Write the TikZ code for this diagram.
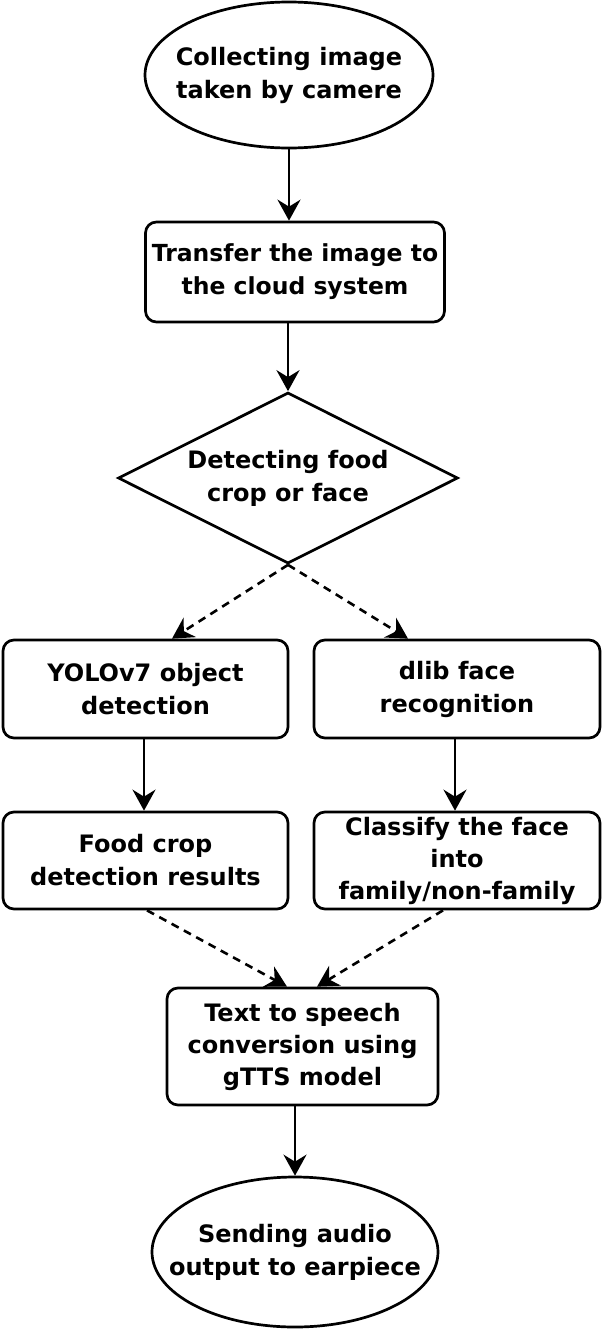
\documentclass[tikz,border=0pt]{standalone}
\usepackage{fontspec}
\setmainfont{DejaVu Sans}
\usetikzlibrary{shapes.geometric,arrows.meta}
\begin{document}
\begin{tikzpicture}[x=1pt,y=-1pt,
  every node/.style={font=\fontsize{24}{33}\selectfont\bfseries, align=center, inner sep=0pt},
  oval/.style={draw, line width=2.7pt, ellipse, minimum width=288pt, minimum height=146pt},
  stepbox/.style={draw, line width=2.7pt, rounded corners=11pt, rectangle},
  decide/.style={draw, line width=2.7pt, diamond, aspect=1.99, minimum width=340pt, minimum height=171pt},
  solidarrow/.style={line width=2.6pt, -{Stealth[length=21pt,width=23pt,inset=7pt]}},
  dasharrow/.style={line width=2.6pt, dash pattern=on 8pt off 6pt, -{Stealth[length=21pt,width=23pt,inset=7pt]}}
]
\useasboundingbox (0,0) rectangle (605,1331);
\node[oval, label={center:Collecting image\\taken by camere}] (e1) at (289,75) {};
\node[stepbox, minimum width=299pt, minimum height=100pt, font=\fontsize{23.5}{33}\selectfont\bfseries] (b1) at (295,272) {Transfer the image to\\the cloud system};
\node[decide] (d) at (288,478) {Detecting food\\crop or face};
\node[stepbox, minimum width=285pt, minimum height=98pt] (b2L) at (145.5,689) {YOLOv7 object\\detection};
\node[stepbox, minimum width=286pt, minimum height=98pt] (b2R) at (457,689) {dlib face\\recognition};
\node[stepbox, minimum width=285pt, minimum height=97pt] (b3L) at (145.5,860.5) {Food crop\\detection results};
\node[stepbox, minimum width=286pt, minimum height=97pt, font=\fontsize{24}{32}\selectfont\bfseries] (b3R) at (457,860.5) {Classify the face\\into\\family/non-family};
\node[stepbox, minimum width=271pt, minimum height=117pt, font=\fontsize{24}{32}\selectfont\bfseries] (b4) at (302.5,1046.5) {Text to speech\\conversion using\\gTTS model};
\node[oval, minimum width=286pt, minimum height=150pt, label={center:Sending audio\\output to earpiece}] (e2) at (295,1252) {};

\draw[solidarrow] (e1.south) -- (e1.south |- b1.north);
\draw[solidarrow] (d.north |- b1.south) -- (d.north);
\draw[dasharrow] (d.south) -- ([xshift=26.5pt]b2L.north);
\draw[dasharrow] (d.south) -- ([xshift=-49pt]b2R.north);
\draw[solidarrow] ([xshift=-1.5pt]b2L.south) -- ([xshift=-1.5pt]b3L.north);
\draw[solidarrow] ([xshift=-2pt]b2R.south) -- ([xshift=-2pt]b3R.north);
\draw[dasharrow] ([xshift=1.5pt]b3L.south) -- ([xshift=-15.5pt]b4.north);
\draw[dasharrow] ([xshift=-14pt]b3R.south) -- ([xshift=14.5pt]b4.north);
\draw[solidarrow] (e2.north |- b4.south) -- (e2.north);
\end{tikzpicture}
\end{document}
